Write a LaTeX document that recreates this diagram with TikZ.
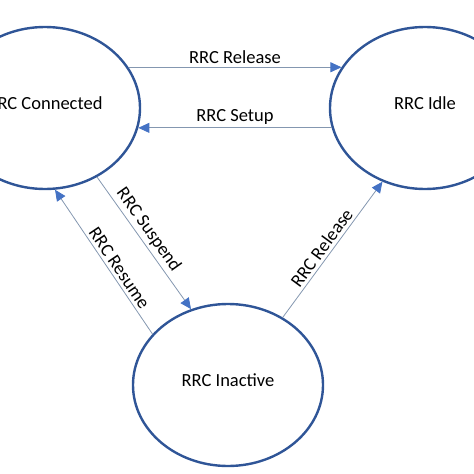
\documentclass[tikz,border=0pt]{standalone}
\usepackage{fontspec}
\setmainfont{Carlito}
\usetikzlibrary{shapes.geometric,arrows.meta}
\definecolor{statebd}{HTML}{2F5597}
\definecolor{arrline}{HTML}{8497B0}
\definecolor{arrtip}{HTML}{4472C4}
\begin{document}
\begin{tikzpicture}[x=1pt,y=-1pt,
    state/.style={ellipse,draw=statebd,line width=2.4pt,minimum width=190pt,minimum height=162pt,text depth=10pt,font=\fontsize{18.5}{22}\selectfont},
    trans/.style={draw=arrline,line width=0.8pt,-{Triangle[length=11pt,width=10pt,color=arrtip]}},
    lbl/.style={font=\fontsize{18.5}{22}\selectfont,inner sep=3pt,sloped}]
    \useasboundingbox (0,0) rectangle (474,474);
    \clip (0,0) rectangle (474,474);
    \node[state] (conn) at (45,108) {RRC Connected};
    \node[state] (idle) at (425,108) {RRC Idle};
    \node[state] (inact) at (228,385) {RRC Inactive};
    \draw[trans] (conn.26)--(idle.154) node[lbl,midway,above]{RRC Release};
    \draw[trans] (idle.192)--(conn.348) node[lbl,midway,above]{RRC Setup};
    \draw[trans] (conn.307)--(inact.116) node[lbl,pos=0.45,above]{RRC Suspend};
    \draw[trans] (inact.146)--(conn.277) node[lbl,pos=0.42,above]{RRC Resume};
    \draw[trans] (inact.51)--(idle.240) node[lbl,pos=0.47,above]{RRC Release};
  \end{tikzpicture}
\end{document}
